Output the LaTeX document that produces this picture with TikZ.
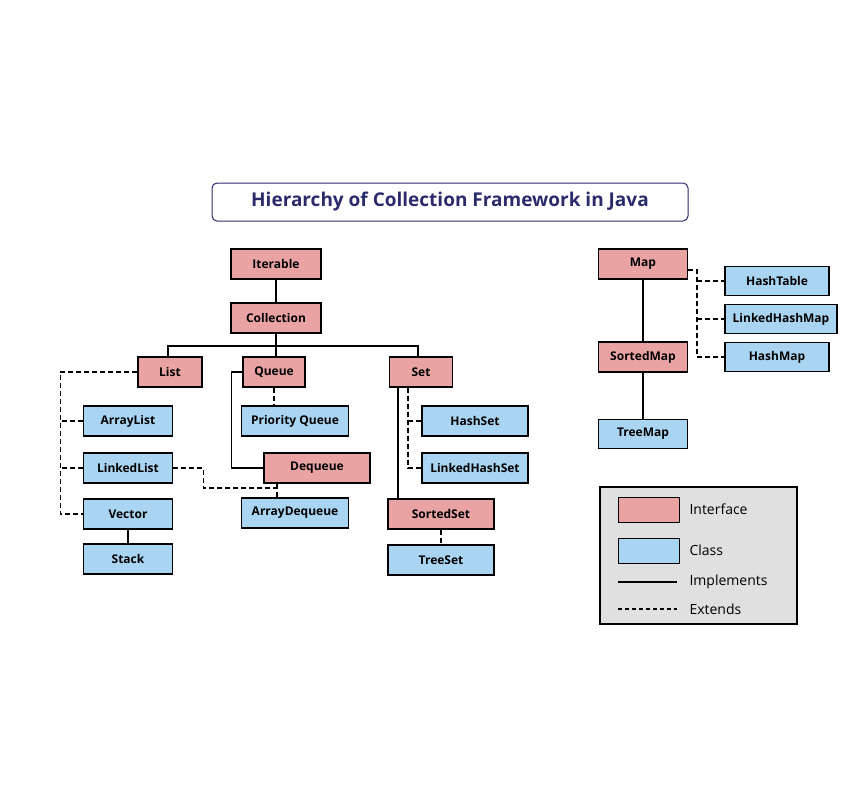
\documentclass[tikz,border=0pt]{standalone}
\usepackage{fontspec}
\setmainfont{Open Sans}
\usetikzlibrary{positioning, calc}
\definecolor{ifacepink}{HTML}{E9A3A3}
\definecolor{classblue}{HTML}{A9D5F2}
\definecolor{titlenavy}{HTML}{2B2B6B}
\tikzset{
 box/.style={draw, line width=1.2pt, minimum height=30pt, inner sep=1pt,
 font=\fontsize{12}{14}\selectfont\bfseries},
 iface/.style={box, fill=ifacepink},
 cls/.style={box, fill=classblue},
 impl/.style={line width=1.1pt},
 ext/.style={line width=1.1pt, dash pattern=on 5pt off 3pt},
 legendtext/.style={anchor=west, font=\fontsize{14}{17}\selectfont},
}
\begin{document}
\begin{tikzpicture}[x=1pt, y=-1pt]
 \useasboundingbox (0,0) rectangle (864,803);
 \node[draw=titlenavy, rounded corners=5pt, line width=1pt, minimum width=476pt,
 minimum height=38pt, text=titlenavy, font=\fontsize{19}{22}\selectfont\bfseries]
 (title) at (450,202) {Hierarchy of Collection Framework in Java};
 % interfaces
 \node[iface, minimum width=90pt] (iterable) at (276,264) {Iterable};
 \node[iface, minimum width=90pt] (collection) at (276,318) {Collection};
 \node[iface, minimum width=64pt] (list) at (170,372) {List};
 \node[iface, minimum width=62pt] (queue) at (274,372) {Queue};
 \node[iface, minimum width=63pt] (set) at (421,372) {Set};
 \node[iface, minimum width=106pt] (dequeue) at (317,468) {Dequeue};
 \node[iface, minimum width=106pt] (sortedset) at (441,514) {SortedSet};
 \node[iface, minimum width=89pt] (map) at (643,264) {Map};
 \node[iface, minimum width=89pt] (sortedmap) at (643,357) {SortedMap};
 % classes
 \node[cls, minimum width=89pt] (arraylist) at (128,421) {ArrayList};
 \node[cls, minimum width=89pt] (linkedlist) at (128,468) {LinkedList};
 \node[cls, minimum width=89pt] (vector) at (128,514) {Vector};
 \node[cls, minimum width=89pt] (stack) at (128,559) {Stack};
 \node[cls, minimum width=107pt] (pqueue) at (295,421) {Priority Queue};
 \node[cls, minimum width=107pt] (arraydequeue) at (295,513) {ArrayDequeue};
 \node[cls, minimum width=106pt] (hashset) at (475,421) {HashSet};
 \node[cls, minimum width=106pt] (linkedhashset) at (475,468) {LinkedHashSet};
 \node[cls, minimum width=106pt] (treeset) at (441,560) {TreeSet};
 \node[cls, minimum width=104pt, minimum height=29pt] (hashtable) at (777,281) {HashTable};
 \node[cls, minimum width=112pt, minimum height=29pt] (linkedhashmap) at (781,319) {LinkedHashMap};
 \node[cls, minimum width=104pt, minimum height=29pt] (hashmap) at (777,357) {HashMap};
 \node[cls, minimum width=89pt, minimum height=29pt] (treemap) at (643,434) {TreeMap};
 % implements
 \draw[impl] (iterable) -- (collection);
 \coordinate (bus) at (276,346);
 \draw[impl] (collection.south) -- (bus);
 \draw[impl] (list.north -| 168,0) |- (bus) -| (set.north -| 418,0);
 \draw[impl] (bus) -- (queue.north -| bus);
 \draw[impl] (queue.west) -- ++(-11,0) |- (dequeue.west);
 \draw[impl] (set.south -| 398,0) -- (sortedset.north -| 398,0);
 \draw[impl] (vector) -- (stack);
 \draw[impl] (map) -- (sortedmap);
 \draw[impl] (sortedmap) -- (treemap);
 % extends
 \draw[ext] (list.west) -- ++(-77,0) |- (vector.west);
 \draw[ext] (arraylist.west) -- ++(-23,0);
 \draw[ext] (linkedlist.west) -- ++(-23,0);
 \draw[ext] (queue) -- (pqueue.north -| queue);
 \draw[ext] (linkedlist.east) -- ++(30,0) |- (277,488);
 \draw[ext] (dequeue.south -| 277,0) -- (arraydequeue.north -| 277,0);
 \draw[ext] (set.south -| 408,0) |- (linkedhashset.west);
 \draw[ext] (hashset.west) -- ++(-14,0);
 \draw[ext] (sortedset) -- (treeset);
 \draw[ext] (map.east |- 0,270) -- (697,270) |- (hashmap.west);
 \draw[ext] (697,281) -- (hashtable.west);
 \draw[ext] (697,319) -- (linkedhashmap.west);
 % legend
 \node[draw, line width=1.2pt, fill=black!12, minimum width=197pt, minimum height=137pt]
 (legend) at (698.5,555.5) {};
 \node[draw, line width=1pt, fill=ifacepink, minimum width=61pt, minimum height=25pt]
 (iswatch) at (648.5,509.5) {};
 \node[draw, line width=1pt, fill=classblue, minimum width=61pt, minimum height=25pt]
 (cswatch) at (648.5,550.5) {};
 \coordinate (solida) at (618,582);
 \coordinate (solidb) at (677,582);
 \coordinate (dasha) at (618,609);
 \coordinate (dashb) at (677,609);
 \draw[impl] (solida) -- (solidb);
 \draw[ext, dash pattern=on 4pt off 3pt] (dasha) -- (dashb);
 \node[legendtext] (ilabel) at (686,509.5) {Interface};
 \node[legendtext] (clabel) at (686,550.5) {Class};
 \node[legendtext] (slabel) at (686,582) {Implements};
 \node[legendtext] (dlabel) at (686,609) {Extends};
\end{tikzpicture}
\end{document}
